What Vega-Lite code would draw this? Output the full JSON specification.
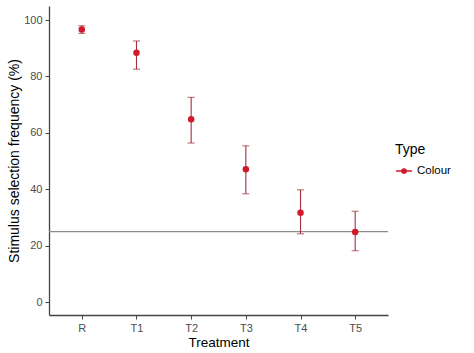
{
  "$schema": "https://vega.github.io/schema/vega-lite/v6.json",
  "autosize": "none",
  "width": 339,
  "height": 309,
  "padding": {"left": 49, "top": 6, "right": 86, "bottom": 38},
  "background": "white",
  "config": {
    "view": {"stroke": null},
    "font": "Liberation Sans",
    "axis": {
      "grid": false,
      "domainColor": "#444444",
      "domainWidth": 1.3,
      "tickColor": "#444444",
      "tickSize": 4,
      "labelColor": "#4d4d4d",
      "labelFontSize": 11,
      "titleFontSize": 13.5,
      "titleFontWeight": "normal",
      "titleColor": "#000000"
    }
  },
  "data": {
    "values": [
      {"Treatment": "R", "mean": 96.7, "lo": 95.3, "hi": 98.0, "Type": "Colour"},
      {"Treatment": "T1", "mean": 88.4, "lo": 82.6, "hi": 92.6, "Type": "Colour"},
      {"Treatment": "T2", "mean": 64.8, "lo": 56.4, "hi": 72.6, "Type": "Colour"},
      {"Treatment": "T3", "mean": 47.1, "lo": 38.4, "hi": 55.4, "Type": "Colour"},
      {"Treatment": "T4", "mean": 31.7, "lo": 24.2, "hi": 39.8, "Type": "Colour"},
      {"Treatment": "T5", "mean": 24.8, "lo": 18.2, "hi": 32.2, "Type": "Colour"}
    ]
  },
  "encoding": {
    "x": {
      "field": "Treatment",
      "type": "nominal",
      "scale": {"type": "point", "padding": 0.6},
      "axis": {"labelAngle": 0, "title": "Treatment", "labelPadding": 3, "titlePadding": 2}
    }
  },
  "layer": [
    {
      "data": {"values": [{"ref": 25}]},
      "mark": {"type": "rule", "color": "#8c8c8c", "strokeWidth": 1.2},
      "encoding": {
        "x": null,
        "y": {"field": "ref", "type": "quantitative"}
      }
    },
    {
      "mark": {"type": "rule", "color": "#a3303c", "strokeWidth": 1.1},
      "encoding": {
        "y": {
          "field": "lo",
          "type": "quantitative",
          "scale": {"domain": [-4.6, 105], "nice": false, "zero": false},
          "axis": {"values": [0, 20, 40, 60, 80, 100], "title": "Stimulus selection frequency (%)", "titlePadding": 2, "labelPadding": 3, "titleFontSize": 14}
        },
        "y2": {"field": "hi"}
      }
    },
    {
      "mark": {"type": "tick", "color": "#a3303c", "orient": "horizontal", "size": 7, "thickness": 1.1},
      "encoding": {"y": {"field": "lo", "type": "quantitative"}}
    },
    {
      "mark": {"type": "tick", "color": "#a3303c", "orient": "horizontal", "size": 7, "thickness": 1.1},
      "encoding": {"y": {"field": "hi", "type": "quantitative"}}
    },
    {
      "mark": {"type": "point", "filled": true, "size": 42, "opacity": 1},
      "encoding": {
        "y": {"field": "mean", "type": "quantitative"},
        "color": {
          "field": "Type",
          "type": "nominal",
          "scale": {"range": ["#d0192b"]},
          "legend": {
            "title": "Type",
            "orient": "none",
            "legendX": 346,
            "legendY": 137,
            "titleFontSize": 14,
            "titleFontWeight": "normal",
            "titleColor": "#000000",
            "labelFontSize": 11.5,
            "labelColor": "#000000",
            "symbolType": "M-1,0L-0.28,0M0.28,0L1,0M-0.28,0A0.28,0.28 0 1,1 0.28,0A0.28,0.28 0 1,1 -0.28,0",
            "symbolSize": 250,
            "symbolStrokeWidth": 1.3,
            "symbolStrokeColor": "#d0192b",
            "symbolFillColor": "#d0192b"
          }
        }
      }
    }
  ]
}
